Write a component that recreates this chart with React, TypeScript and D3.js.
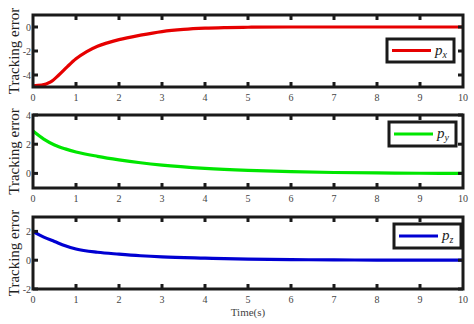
import React from 'react';
import * as d3 from 'd3';

// time samples (s) and tracking error of each axis
const timeX = [0, 0.2, 0.4, 0.6, 0.8, 1, 1.25, 1.5, 1.75, 2, 2.5, 3, 3.5, 4, 4.5, 5, 6, 7, 8, 9, 10];
const errX = [-4.9, -4.85, -4.6, -4.0, -3.3, -2.65, -2.05, -1.6, -1.3, -1.05, -0.68, -0.38, -0.2, -0.1, -0.05, -0.02, 0, 0, 0, 0, 0];

const timeY = [0, 0.25, 0.5, 0.75, 1, 1.5, 2, 2.5, 3, 4, 5, 6, 7, 8, 9, 10];
const errY = [2.9, 2.35, 1.95, 1.68, 1.47, 1.17, 0.93, 0.73, 0.57, 0.35, 0.21, 0.12, 0.06, 0.03, 0.01, 0];

const timeZ = [0, 0.25, 0.5, 0.75, 1, 1.5, 2, 2.5, 3, 4, 5, 6, 7, 8, 9, 10];
const errZ = [2.0, 1.6, 1.3, 1.0, 0.78, 0.55, 0.42, 0.31, 0.23, 0.14, 0.07, 0.04, 0.02, 0.01, 0, 0];

const xTicks = [0, 1, 2, 3, 4, 5, 6, 7, 8, 9, 10];

const panels = [
  { t: timeX, v: errX, domain: [-5, 1], ticks: [-4, -2, 0], top: 15, bottom: 87, color: '#e60000', sub: 'x', legend: [387, 39, 67, 23] },
  { t: timeY, v: errY, domain: [-1, 4], ticks: [0, 2, 4], top: 115, bottom: 188, color: '#00e600', sub: 'y', legend: [389, 122, 67, 24] },
  { t: timeZ, v: errZ, domain: [-2, 3], ticks: [-2, 0, 2], top: 217, bottom: 289, color: '#0000d2', sub: 'z', legend: [394, 224, 67, 24] },
];

const left = 33;
const right = 463;
const serif = '"Liberation Serif", "Times New Roman", serif';

export default function App() {
  const x = d3.scaleLinear().domain([0, 10]).range([left, right]);

  return (
    <svg width={474} height={324} style={{ position: 'absolute', left: 0, top: 0, background: '#fff' }}>
      {panels.map((p, i) => {
        const y = d3.scaleLinear().domain(p.domain).range([p.bottom, p.top]);
        const line = d3.line<number>()
          .x((_, j) => x(p.t[j]))
          .y(d => y(d))
          .curve(d3.curveMonotoneX);
        const [lx, ly, lw, lh] = p.legend;
        return (
          <g key={i}>
            <path d={line(p.v) || ''} fill="none" stroke={p.color} strokeWidth={3.2} />
            {/* ticks */}
            {xTicks.slice(1, -1).map(t => (
              <g key={'xt' + t}>
                <line x1={x(t)} x2={x(t)} y1={p.top} y2={p.top + 5} stroke="#1a1a1a" strokeWidth={3} />
                <line x1={x(t)} x2={x(t)} y1={p.bottom} y2={p.bottom - 5} stroke="#1a1a1a" strokeWidth={3} />
              </g>
            ))}
            {p.ticks.map(t => (
              <g key={'yt' + t}>
                <line x1={left} x2={left + 5} y1={y(t)} y2={y(t)} stroke="#1a1a1a" strokeWidth={3} />
                <line x1={right} x2={right - 5} y1={y(t)} y2={y(t)} stroke="#1a1a1a" strokeWidth={3} />
                <text x={31} y={y(t)} dy="0.35em" textAnchor="end" fontFamily={serif} fontSize={10} fill="#444">
                  {t}
                </text>
              </g>
            ))}
            {xTicks.map(t => (
              <text key={'xl' + t} x={x(t)} y={p.bottom + 14} textAnchor="middle" fontFamily={serif} fontSize={10} fill="#444">
                {t}
              </text>
            ))}
            <rect x={left} y={p.top} width={right - left} height={p.bottom - p.top} fill="none" stroke="#1a1a1a" strokeWidth={3} />
            {/* legend */}
            <rect x={lx} y={ly} width={lw} height={lh} fill="#fff" stroke="#1a1a1a" strokeWidth={3} />
            <line x1={lx + 5} x2={lx + 44} y1={ly + lh / 2} y2={ly + lh / 2} stroke={p.color} strokeWidth={3.2} />
            <text x={lx + 48} y={ly + lh / 2 + 4} fontFamily={serif} fontStyle="italic" fontSize={15} fill="#222">
              p<tspan fontSize={10} dy={3}>{p.sub}</tspan>
            </text>
            <text
              transform={`translate(19,${(p.top + p.bottom) / 2}) rotate(-90)`}
              textAnchor="middle"
              fontFamily={serif}
              fontSize={15}
              fill="#222"
            >
              Tracking error
            </text>
          </g>
        );
      })}
      <text x={248} y={316} textAnchor="middle" fontFamily={serif} fontSize={11} fill="#444">Time(s)</text>
    </svg>
  );
}
